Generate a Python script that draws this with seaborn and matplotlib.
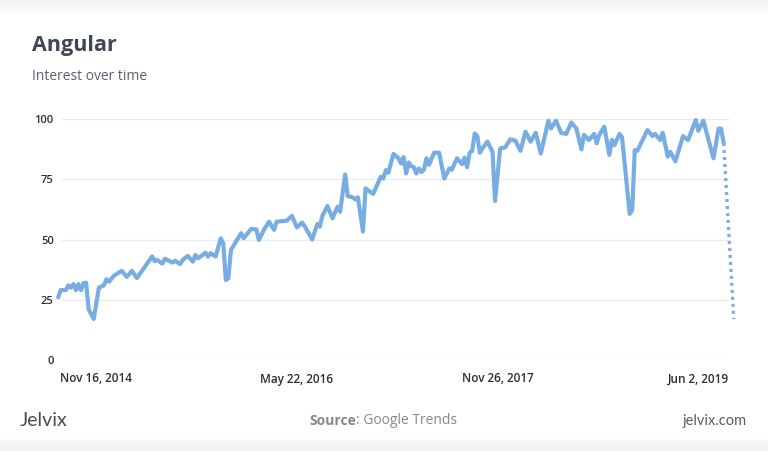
import numpy as np
import pandas as pd
import matplotlib.pyplot as plt
import seaborn as sns

# weekly Google Trends interest for "Angular"
# weeks are counted from Nov 16, 2014 (the first x tick)
weeks = [-15, -14, -12, -11, -10, -9, -8, -7, -6, -5, -4, -3, -2, -1, 1,
         3, 4, 5, 7, 10, 12, 14, 16, 22, 23, 24, 26, 27, 29, 30, 31, 33, 34,
         36, 38, 39, 40, 43, 44, 45, 47, 49, 50, 51, 52, 53, 57, 58, 61, 63,
         64, 66, 68, 70, 71, 75, 77, 79, 81, 82, 85, 87, 88, 89, 91, 93, 95,
         96, 98, 99, 101, 102, 103, 105, 106, 109, 112, 113, 114, 115, 117,
         119, 120, 121, 122, 123, 124, 125, 126, 127, 128, 129, 130, 131, 133,
         135, 137, 139, 140, 142, 144, 145, 146, 147, 148, 149, 150, 151, 152,
         154, 156, 157, 159, 161, 163, 165, 167, 169, 171, 173, 175, 178, 179,
         181, 183, 185, 187, 189, 191, 192, 194, 196, 197, 198, 200, 202, 203,
         204, 206, 207, 210, 211, 212, 213, 217, 219, 220, 222, 223, 225, 226,
         228, 231, 233, 236, 237, 239, 243, 245, 246, 247]
interest = [26, 29, 29, 31, 30, 31.5, 29, 31.5, 29, 32, 32, 21, 19, 17, 30,
            31, 33.5, 32.5, 35, 37, 34.5, 37, 34, 43, 41, 41.5, 40, 42, 41, 40.4, 41.2, 39.8, 41.5,
            43.2, 40.8, 43.6, 42.2, 44.5, 42.9, 44.3, 42.9, 50.5, 48.4, 33.2, 33.9, 45.6, 52.6, 50.5, 54.4, 54.2,
            49.8, 54, 57.4, 54, 57.4, 57.8, 59.8, 55, 57, 55.6, 50, 56.4, 55.3, 59.8, 63.9, 58.8, 63.6,
            61.5, 77, 68, 67.5, 66.6, 67.5, 53.3, 71.2, 68.9, 76, 75.3, 78.8, 77.7, 85.5,
            83.7, 81.5, 84.2, 77.4, 82, 80.5, 80, 77.4, 79.5, 78, 79, 83.7, 81, 86,
            86, 75.3, 79.5, 79, 83.7, 81.3, 84, 80, 86, 86.8, 94, 93, 86, 87.8,
            90.6, 86.4, 66, 87.8, 88.2, 91.6, 91, 86.8, 94.7, 90.6, 94.3, 85.7, 99.3, 96.1,
            99.3, 94.3, 93.8, 98.5, 96.1, 87.4, 93.4, 91.3, 93.8, 89.9, 93.4, 96.8, 85.1, 91.3,
            89.2, 93.8, 92.4, 60.6, 62.2, 87.1, 86.8, 95.4, 92.9, 93.8, 91.3, 94.3, 84.4, 86.4,
            82.4, 92.9, 91.3, 99.6, 95.1, 99.3, 83.7, 96, 96, 90]
# last (incomplete) week, drawn dotted
partial_weeks = [247, 251]
partial_interest = [90, 17]

tick_dates = ['2014-11-16', '2016-05-22', '2017-11-26', '2019-06-02']
tick_labels = ['Nov 16, 2014', 'May 22, 2016', 'Nov 26, 2017', 'Jun 2, 2019']
y_ticks = [0, 25, 50, 75, 100]

start = pd.Timestamp('2014-11-16')
df = pd.DataFrame({'date': start + pd.to_timedelta(np.array(weeks) * 7, unit='D'),
                   'interest': interest})
df_part = pd.DataFrame({'date': start + pd.to_timedelta(np.array(partial_weeks) * 7, unit='D'),
                        'interest': partial_interest})

sns.set_theme(style='white')
plt.rcParams['font.family'] = ['Open Sans', 'DejaVu Sans']

blue = '#78ade4'
W, H = 768, 451
fig = plt.figure(figsize=(W / 100, H / 100), dpi=100)

# soft grey shadow at top and bottom edges
bg = fig.add_axes([0, 0, 1, 1], zorder=-5)
yy = np.arange(H)
shade = 0.945 + 0.055 * np.clip(yy / 14, 0, 1)
shade = np.minimum(shade, 1 - 0.05 * np.clip((yy - 438) / 6, 0, 1))
bg.imshow(shade[:, None].repeat(4, axis=1), cmap='gray', vmin=0, vmax=1,
          aspect='auto', extent=[0, 1, 1, 0])
bg.set_axis_off()

ax = fig.add_axes([62 / W, (H - 360) / H, 668 / W, 241 / H])
ax.set_facecolor('none')
sns.lineplot(data=df, x='date', y='interest', ax=ax, color=blue, lw=3,
             clip_on=False, solid_joinstyle='round', solid_capstyle='round')
sns.lineplot(data=df_part, x='date', y='interest', ax=ax, color=blue, lw=2.4,
             linestyle=(0, (0.9, 1.2)), clip_on=False)

ax.set_xlim(start - pd.Timedelta(weeks=13.5), start + pd.Timedelta(weeks=249.5))
ax.set_ylim(0, 100)
ax.set_yticks(y_ticks)
ax.set_xticks(pd.to_datetime(tick_dates))
ax.set_xticklabels(tick_labels)
ax.yaxis.grid(True, color='#ebebeb', lw=0.9)
ax.xaxis.grid(False)
ax.set_axisbelow(True)
for s in ax.spines.values():
    s.set_visible(False)
ax.tick_params(axis='y', length=0, pad=6, labelsize=8, labelcolor='#2b2f36')
ax.tick_params(axis='x', length=0, pad=9, labelsize=8.5, labelcolor='#2b2f36')
for lab in ax.get_xticklabels() + ax.get_yticklabels():
    lab.set_fontweight('semibold')
ax.set_xlabel('')
ax.set_ylabel('')

fig.text(32 / W, 1 - 45 / H, 'Angular', fontsize=15.5, fontweight='bold',
         color='#3e4555', va='center', ha='left')
fig.text(32 / W, 1 - 76 / H, 'Interest over time', fontsize=10,
         color='#5a6170', va='center', ha='left')

fig.text(20 / W, 1 - 421 / H, 'Jelvix', fontsize=14,
         color='#4a4a4a', va='center', ha='left', family=['Lato', 'DejaVu Sans'])
fig.text(356 / W, 1 - 421 / H, 'Source', fontsize=10, fontweight='bold',
         color='#888888', va='center', ha='right')
fig.text(356 / W, 1 - 421 / H, ': Google Trends', fontsize=10,
         color='#888888', va='center', ha='left')
fig.text(747 / W, 1 - 421 / H, 'jelvix.com', fontsize=10.5, color='#5e5e5e',
         va='center', ha='right', family=['Lato', 'DejaVu Sans'])

fig.savefig('out.png', dpi=100)
